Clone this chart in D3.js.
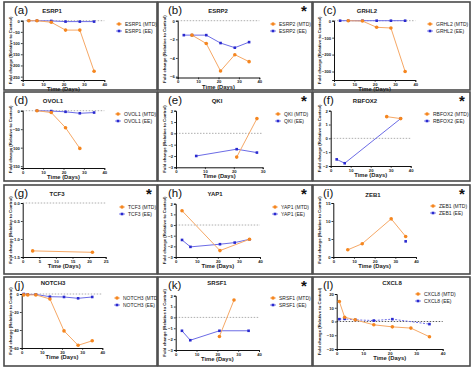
<!DOCTYPE html>
<html><head><meta charset="utf-8">
<script src="https://cdn.jsdelivr.net/npm/d3@7"></script>
<style>body{margin:0;background:#fff}text{font-family:"Liberation Sans",Arial,sans-serif}</style>
</head><body><svg id="c" width="474" height="371"></svg>
<script>
// ---------- DATA ----------
const esrp1Days=[3,7,14,21,28,35], esrp1MTD=[0,0,-7,-42,-42,-226], esrp1EEDays=[3,7,14,21,28,35], esrp1EE=[0,0,-1,-4,-4,-4];
const esrp2MTDDays=[7,14,21,28,35], esrp2MTD=[-1.55,-2.45,-5.4,-3.65,-4.4], esrp2EEDays=[3,7,14,21,28,35], esrp2EE=[-1.55,-1.55,-1.55,-2.4,-2.9,-2.3];
const grhl2MTDDays=[7,14,21,28,35], grhl2MTD=[0,-2,-39,-43,-300], grhl2EEDays=[3,7,14,21,28,35], grhl2EE=[0,0,0,0,0,0];
const ovol1MTDDays=[7,14,21,28], ovol1MTD=[0,-5,-46,-102], ovol1EEDays=[7,14,21,28,35], ovol1EE=[0,-1,-3,-7,-5];
const qkiMTDDays=[21,28], qkiMTD=[-2.1,1.3], qkiEEDays=[7,21,28], qkiEE=[-2.0,-1.4,-1.7];
const rbfox2MTDDays=[28,35], rbfox2MTD=[1.57,1.43], rbfox2EEDays=[3,7,35], rbfox2EE=[-1.52,-1.8,1.43];
const tcf3MTDDays=[3,21], tcf3MTD=[-1.33,-1.37], tcf3EEDays=[], tcf3EE=[];
const yap1MTDDays=[3,21,35], yap1MTD=[1.34,-2.4,-1.34], yap1EEDays=[3,7,21,28,35], yap1EE=[-1.4,-2.05,-1.8,-1.65,-1.34];
const zeb1MTDDays=[7,14,28,35], zeb1MTD=[2.0,3.7,10.6,5.7], zeb1EEDays=[35], zeb1EE=[4.35];
const notch3MTDDays=[1,3,7,14,21,28,35], notch3MTD=[-1,-1,-1,-5.5,-41,-57,-52], notch3EEDays=[1,3,7,14,21,28,35], notch3EE=[0,-0.5,-0.5,-3,-3.3,-4.8,-3.3];
const srsf1MTDDays=[21,28], srsf1MTD=[-1.75,1.6], srsf1EEDays=[3,7,21,35], srsf1EE=[-1.23,-2.1,-1.23,-1.23];
const cxcl8MTDDays=[1,3,7,14,21,28,35], cxcl8MTD=[14.5,3.1,1.2,-2.4,-3.9,-4.8,-11.1], cxcl8EEDays=[1,3,7,14,21,35], cxcl8EE=[1.7,1.9,1.2,0.7,1.7,-1.9];

const genes=["ESRP1","ESRP2","GRHL2","OVOL1","QKI","RBFOX2","TCF3","YAP1","ZEB1","NOTCH3","SRSF1","CXCL8"];
const letters=["(a)","(b)","(c)","(d)","(e)","(f)","(g)","(h)","(i)","(j)","(k)","(l)"];
const mtdDays=[esrp1Days,esrp2MTDDays,grhl2MTDDays,ovol1MTDDays,qkiMTDDays,rbfox2MTDDays,tcf3MTDDays,yap1MTDDays,zeb1MTDDays,notch3MTDDays,srsf1MTDDays,cxcl8MTDDays];
const mtdVals=[esrp1MTD,esrp2MTD,grhl2MTD,ovol1MTD,qkiMTD,rbfox2MTD,tcf3MTD,yap1MTD,zeb1MTD,notch3MTD,srsf1MTD,cxcl8MTD];
const eeDays=[esrp1EEDays,esrp2EEDays,grhl2EEDays,ovol1EEDays,qkiEEDays,rbfox2EEDays,tcf3EEDays,yap1EEDays,zeb1EEDays,notch3EEDays,srsf1EEDays,cxcl8EEDays];
const eeVals=[esrp1EE,esrp2EE,grhl2EE,ovol1EE,qkiEE,rbfox2EE,tcf3EE,yap1EE,zeb1EE,notch3EE,srsf1EE,cxcl8EE];
const yTickSets=[[0,-50,-100,-150,-200,-250],[0,-2,-4,-6],[0,-100,-200,-300],[0,-50,-100,-150],[2,1,0,-1,-2,-3],[2,1,0,-1,-2],[0,-0.5,-1,-1.5],[2,1,0,-1,-2,-3],[0,5,10,15],[0,-20,-40,-60],[2,1,0,-1,-2,-3],[20,10,0,-10,-20]];
const xTickSets=[[0,10,20,30,40],[0,10,20,30,40],[0,10,20,30,40],[0,10,20,30,40],[0,10,20,30],[0,10,20,30,40],[0,5,10,15,20,25],[0,10,20,30,40],[0,10,20,30,40],[0,10,20,30,40],[0,10,20,30,40],[0,10,20,30,40]];
const starred=[false,true,false,false,true,true,true,true,true,false,true,false];

// ---------- LAYOUT ----------
const layout=[
 {box:[4,2,153,88],x:[22.7,104.3],xd:[0,40],y:[20.7,80],yd:[0,-265],t:[52,13],lg:[119,24]},
 {box:[158,2,154,88],x:[177.7,259.3],xd:[0,40],y:[20.7,77.5],yd:[0,-6.1],t:[218,13],lg:[273,24]},
 {box:[313,2,157,88],x:[334,415.3],xd:[0,40],y:[20.7,80],yd:[0,-350],t:[367,13],lg:[430,24]},
 {box:[4,92,153,89],x:[22.7,104.3],xd:[0,40],y:[110.7,168],yd:[0,-155],t:[53,103],lg:[118,114]},
 {box:[158,92,154,89],x:[176,262.7],xd:[0,30],y:[110.7,167.3],yd:[2,-3],t:[217,103],lg:[278,114]},
 {box:[313,92,157,89],x:[330.7,410.7],xd:[0,40],y:[110.7,166],yd:[2,-2],t:[365,103],lg:[427,114]},
 {box:[4,185,153,89],x:[22.7,105.7],xd:[0,25],y:[203,257],yd:[0,-1.5],t:[57,196],lg:[122,207]},
 {box:[158,185,154,89],x:[175.7,260],xd:[0,40],y:[203.7,257],yd:[2,-3],t:[215,196],lg:[275,207]},
 {box:[313,185,157,89],x:[333.3,416],xd:[0,40],y:[203,257],yd:[15,0],t:[373,197],lg:[433,206]},
 {box:[4,277,153,89],x:[21.7,102.3],xd:[0,40],y:[294,348],yd:[0,-60],t:[53,285],lg:[117,298]},
 {box:[158,277,154,89],x:[175.7,259],xd:[0,40],y:[295.7,350],yd:[2,-3],t:[217,285],lg:[273,298]},
 {box:[313,277,157,89],x:[336.7,442.7],xd:[0,40],y:[294,349],yd:[20,-20],t:[392,285],lg:[418,294]}
];
const OR="#F5861F", ORL="#F6A866", BL="#2A2ACF", BLL="#6C6CE6";

const svg=d3.select("#c");
svg.append("rect").attr("width",474).attr("height",371).attr("fill","#fff");

genes.forEach((g,i)=>{
  const L=layout[i];
  const G=svg.append("g");
  G.append("rect").attr("x",L.box[0]).attr("y",L.box[1]).attr("width",L.box[2]).attr("height",L.box[3])
    .attr("fill","#fff").attr("stroke","#4a4a4a").attr("stroke-width",1.6);
  const x=d3.scaleLinear().domain(L.xd).range(L.x);
  const y=d3.scaleLinear().domain(L.yd).range(L.y);
  if(g!=="ZEB1"){
    G.append("line").attr("x1",L.x[0]).attr("x2",L.x[1]).attr("y1",y(0)).attr("y2",y(0))
     .attr("stroke",g==="CXCL8"?"#333":"#999").attr("stroke-width",0.8).attr("stroke-dasharray","1.5,1.5");
  }
  const fmt = (g==="TCF3")? d3.format(".1f") : d3.format("d");
  const ya=d3.axisLeft(y).tickValues(yTickSets[i]).tickSize(1.8).tickPadding(1).tickFormat(fmt);
  const xa=d3.axisBottom(x).tickValues(xTickSets[i]).tickSize(1.8).tickPadding(1);
  const gy=G.append("g").attr("transform",`translate(${L.x[0]},0)`).call(ya);
  const gx=G.append("g").attr("transform",`translate(0,${L.y[1]})`).call(xa);
  [gx,gy].forEach(a=>{a.selectAll("path,line").attr("stroke","#111").attr("stroke-width",0.8);
    a.selectAll("text").attr("font-size",4.2).attr("fill","#222").attr("font-weight","bold");a.select(".domain").attr("stroke-width",1);});
  const line=d3.line().x(d=>x(d[0])).y(d=>y(d[1]));
  const mt=mtdDays[i].map((d,k)=>[d,mtdVals[i][k]]);
  const ee=eeDays[i].map((d,k)=>[d,eeVals[i][k]]);
  G.append("path").datum(ee).attr("d",line).attr("fill","none").attr("stroke",BLL).attr("stroke-width",1)
    .attr("stroke-dasharray",g==="CXCL8"?"2,1.5":null);
  G.append("path").datum(mt).attr("d",line).attr("fill","none").attr("stroke",ORL).attr("stroke-width",1);
  G.selectAll(".e").data(ee).join("rect").attr("x",d=>x(d[0])-1.3).attr("y",d=>y(d[1])-1.3).attr("width",2.6).attr("height",2.6).attr("fill",BL);
  G.selectAll(".m").data(mt).join("circle").attr("cx",d=>x(d[0])).attr("cy",d=>y(d[1])).attr("r",1.8).attr("fill",OR);
  G.append("text").attr("x",L.box[0]+10).attr("y",L.box[1]+11.5).attr("font-size",11.5).attr("fill","#111").text(letters[i]);
  G.append("text").attr("x",L.t[0]).attr("y",L.t[1]).attr("font-size",6).attr("font-weight","bold").attr("text-anchor","middle").attr("fill","#222").text(g);
  const cy=(L.y[0]+L.y[1])/2;
  G.append("text").attr("transform",`translate(${L.box[0]+7.5},${cy}) rotate(-90)`).attr("font-size",4.3).attr("font-weight","bold")
    .attr("text-anchor","middle").attr("fill","#222").text("Fold change (Relative to Control)");
  G.append("text").attr("x",(L.x[0]+L.x[1])/2).attr("y",L.y[1]+11).attr("font-size",5.8).attr("font-weight","bold")
    .attr("text-anchor","middle").attr("fill","#222").text("Time (Days)");
  [["MTD",OR,ORL],["EE",BL,BLL]].forEach((s,k)=>{
    const ly=L.lg[1]+k*7;
    G.append("line").attr("x1",L.lg[0]-3).attr("x2",L.lg[0]+3).attr("y1",ly).attr("y2",ly).attr("stroke",s[2]).attr("stroke-width",0.9);
    if(k===0) G.append("circle").attr("cx",L.lg[0]).attr("cy",ly).attr("r",1.8).attr("fill",s[1]);
    else G.append("rect").attr("x",L.lg[0]-1.3).attr("y",ly-1.3).attr("width",2.6).attr("height",2.6).attr("fill",s[1]);
    G.append("text").attr("x",L.lg[0]+6).attr("y",ly+1.8).attr("font-size",5).attr("fill","#222").text(`${g} (${s[0]})`);
  });
  if(starred[i]){
    G.append("text").attr("x",L.box[0]+L.box[2]-8).attr("y",L.box[1]+14).attr("font-size",15).attr("font-weight","bold")
      .attr("text-anchor","middle").attr("fill","#111").text("*");
  }
});
</script></body></html>
